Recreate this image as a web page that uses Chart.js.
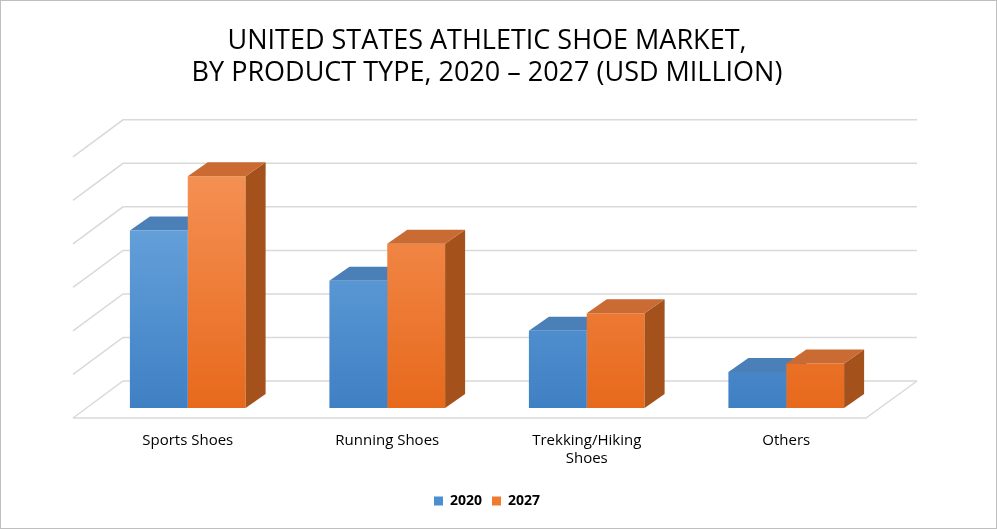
<!DOCTYPE html>
<html><head><meta charset="utf-8">
<script src="https://cdn.jsdelivr.net/npm/chart.js@4/dist/chart.umd.min.js"></script>
<style>html,body{margin:0;padding:0;background:#fff}#w{width:995px;height:527px;border:1px solid #bfbfbf}</style>
</head><body><div id="w"><canvas id="c"></canvas></div>
<script>
const categories=[["Sports Shoes"],["Running Shoes"],["Trekking/Hiking","Shoes"],["Others"]];
const series2020=[163,117,71,33];
const series2027=[213,151,87,41];
const yTicks=[0,40,80,120,160,200,240];
const DX=20,DY=14;
function grad(ctx,area,c1,c2){if(!area)return c1;const g=ctx.createLinearGradient(0,area.top,0,area.bottom);g.addColorStop(0,c1);g.addColorStop(1,c2);return g;}
const cols=[['#3b6ea3','#4a7fb8'],['#a4511c','#c96b32']];
function faces(chart,i){const ctx=chart.ctx;chart.getDatasetMeta(i).data.forEach(b=>{const l=b.x-b.width/2,r=b.x+b.width/2,t=b.y,bt=b.base;
  ctx.fillStyle=cols[i][0];ctx.beginPath();ctx.moveTo(r,t);ctx.lineTo(r+DX,t-DY);ctx.lineTo(r+DX,bt-DY);ctx.lineTo(r,bt);ctx.closePath();ctx.fill();
  ctx.fillStyle=cols[i][1];ctx.beginPath();ctx.moveTo(l,t);ctx.lineTo(l+DX,t-DY);ctx.lineTo(r+DX,t-DY);ctx.lineTo(r,t);ctx.closePath();ctx.fill();});}
const threeD={id:'threeD',
beforeDatasetsDraw(chart){const {ctx,chartArea:a,scales:{y}}=chart;ctx.save();ctx.strokeStyle='#d9d9d9';ctx.lineWidth=1.5;
 yTicks.forEach(v=>{const p=y.getPixelForValue(v);ctx.beginPath();ctx.moveTo(a.left-15,p+10);ctx.lineTo(a.left+35,p-27);ctx.lineTo(a.right+31,p-27);ctx.stroke();});
 const p0=y.getPixelForValue(0);ctx.beginPath();ctx.moveTo(a.left-15,p0+10);ctx.lineTo(a.right-20,p0+10);ctx.lineTo(a.right+31,p0-27);ctx.stroke();
 faces(chart,0);ctx.restore();},
afterDatasetsDraw(chart){chart.ctx.save();faces(chart,1);chart.ctx.restore();}};
new Chart(document.getElementById('c'),{type:'bar',
data:{labels:categories,datasets:[
 {label:'2020',data:series2020,backgroundColor:c=>grad(c.chart.ctx,c.chart.chartArea,'#74aee3','#3f80c4')},
 {label:'2027',data:series2027,backgroundColor:c=>grad(c.chart.ctx,c.chart.chartArea,'#f6955a','#e7691c')}]},
options:{responsive:true,maintainAspectRatio:false,animation:false,
 layout:{padding:{left:87,right:110,top:0,bottom:10}},
 datasets:{bar:{categoryPercentage:0.58,barPercentage:1}},
 plugins:{tooltip:{enabled:false},
  title:{display:true,text:['UNITED STATES ATHLETIC SHOE MARKET,','BY PRODUCT TYPE, 2020 – 2027 (USD MILLION)'],color:'#000',font:{family:'Open Sans',size:27,weight:'normal'},padding:{top:24,bottom:57},lineHeight:1.45},
  legend:{position:'bottom',labels:{boxWidth:9,boxHeight:9,color:'#404040',font:{family:'Open Sans',size:14,weight:'bold'},
   generateLabels:ch=>ch.data.datasets.map((d,i)=>({text:d.label,fillStyle:['#4a8fd4','#f07a30'][i],strokeStyle:'transparent',lineWidth:0,datasetIndex:i}))}}},
 scales:{y:{min:0,max:240,display:false},
  x:{grid:{display:false},border:{display:false},ticks:{color:'#000',font:{family:'Open Sans',size:15},padding:16}}}},
plugins:[threeD]});
</script></body></html>
